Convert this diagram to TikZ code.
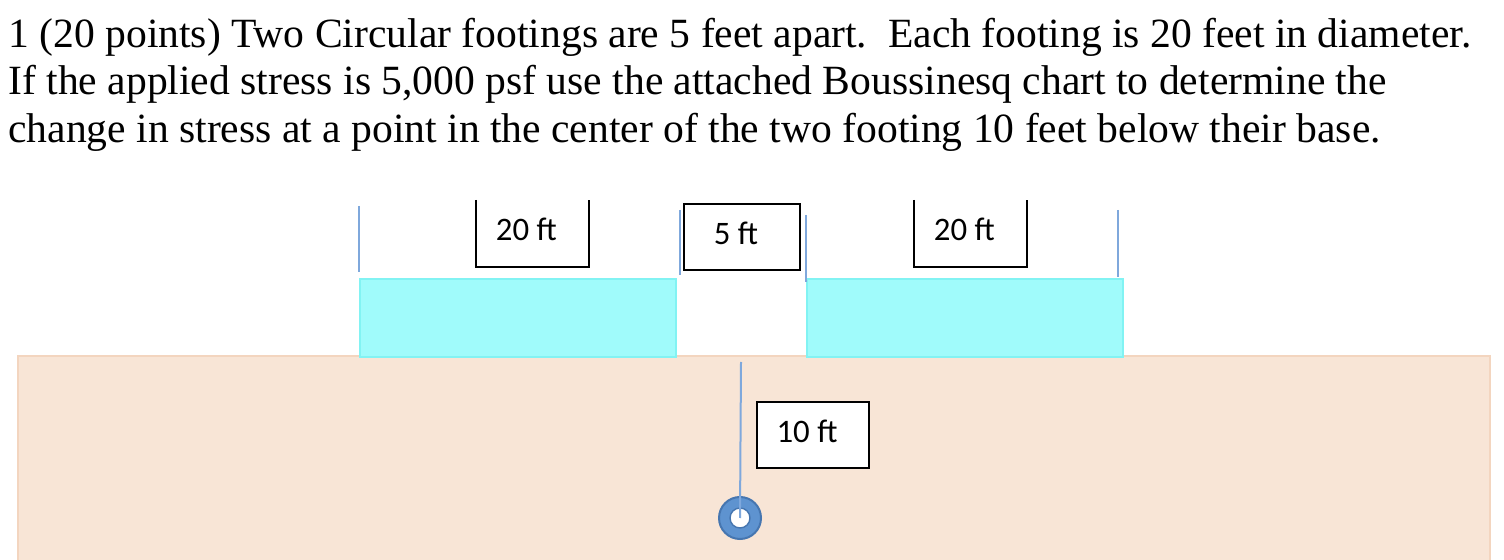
\documentclass[tikz,border=0pt]{standalone}
\usepackage{fontspec}
\setmainfont{Liberation Serif}
\newfontfamily\lblfont{Carlito}
\usepackage{tikz}
\usetikzlibrary{calc}

\definecolor{soil}{HTML}{F8E5D6}
\definecolor{soilline}{HTML}{F3D5BF}
\definecolor{conc}{HTML}{A0FBFB}
\definecolor{concline}{HTML}{82F3F3}
\definecolor{tick}{HTML}{7FA8DC}
\definecolor{ring}{HTML}{5E93D0}
\definecolor{ringline}{HTML}{4676B0}

\newcommand{\lbltext}[1]{\raisebox{4pt}{#1}\kern6pt}

\tikzset{
	qline/.style={anchor=base west,inner sep=0pt,font=\fontsize{20.8}{25}\selectfont},
	footing/.style={draw=concline,fill=conc,line width=1pt,inner sep=0pt,minimum width=158pt,minimum height=39pt},
	dimlbl/.style={font=\lblfont\fontsize{16.4}{19}\selectfont,inner sep=0pt,minimum width=56pt,minimum height=33pt},
	marker/.style={draw=tick,line width=1pt}
}

\begin{document}
\begin{tikzpicture}[x=0.5pt,y=-0.5pt]
	\useasboundingbox (0,0) rectangle (1504,560);
	
	\node[qline] (q1) at (8,48) {1 (20 points) Two Circular footings are 5 feet apart.\ \ Each footing is 20 feet in diameter.};
	\node[qline] (q2) at (8,95) {If the applied stress is 5,000 psf use the attached Boussinesq chart to determine the};
	\node[qline] (q3) at (8,143) {change in stress at a point in the center of the two footing 10 feet below their base.};
	
	\draw[draw=soilline,fill=soil,line width=1pt] (18,356) rectangle (1490,562);
	
	\node[footing,anchor=north west] (fl) at (359,278) {};
	\node[footing,anchor=north west] (fr) at (806,278) {};
	
	\draw[marker] (359,206) -- (359,272);
	\draw[marker] (680,210) -- (680,275);
	\draw[marker] (806,215) -- (806,282);
	\draw[marker] (1118,210) -- (1118,277);
	
	\node[dimlbl,anchor=north west] (wl) at (476,200) {\lbltext{20 ft}};
	\draw[line width=1pt] (wl.north west) -- (wl.south west) -- (wl.south east) -- (wl.north east);
	\node[dimlbl,anchor=north west] (wr) at (914,200) {\lbltext{20 ft}};
	\draw[line width=1pt] (wr.north west) -- (wr.south west) -- (wr.south east) -- (wr.north east);
	\node[dimlbl,draw,fill=white,line width=1pt,minimum width=58pt,anchor=north west] (gap) at (683,203) {\lbltext{5 ft}};
	
	\node[dimlbl,draw,fill=white,line width=1pt,anchor=north west] (depth) at (756,401) {\lbltext{10 ft}};
	
	\coordinate (top) at (741,362);
	\node[circle,draw=ringline,fill=ring,line width=1pt,minimum size=21pt,inner sep=0pt] (pt) at (740,518) {};
	\node[circle,draw=ringline,fill=white,line width=0.7pt,minimum size=10pt,inner sep=0pt] (pin) at (pt) {};
	\draw[marker] (top) -- (pt.center);
\end{tikzpicture}
\end{document}
